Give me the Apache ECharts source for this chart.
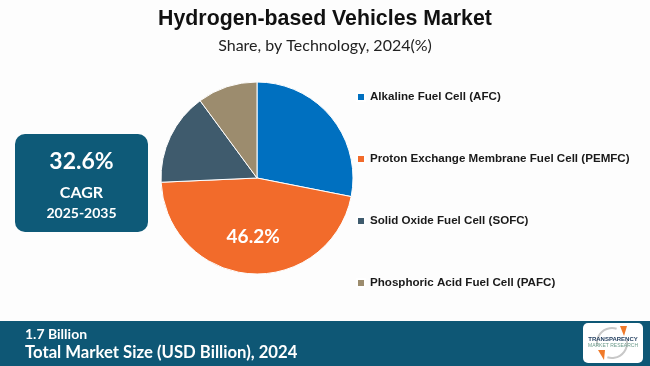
<!DOCTYPE html>
<html><head><meta charset="utf-8">
<script src="https://cdn.jsdelivr.net/npm/echarts@6/dist/echarts.min.js"></script>
<style>html,body{margin:0;padding:0;background:#fdfdfd}#c{width:650px;height:366px}</style>
</head><body><div id="c"></div>
<script>
const categories = ['Alkaline Fuel Cell (AFC)', 'Proton Exchange Membrane Fuel Cell (PEMFC)', 'Solid Oxide Fuel Cell (SOFC)', 'Phosphoric Acid Fuel Cell (PAFC)'];
const shares = [28.1, 46.2, 15.6, 10.1];
const colors = ['#0070c0', '#f26b2b', '#3f5b6d', '#9c8c6e'];
const labeled = [false, true, false, false];
const titleText = 'Hydrogen-based Vehicles Market';
const subtitleText = 'Share, by Technology, 2024(%)';
const cagrValue = '32.6%';
const cagrLabel = 'CAGR';
const cagrPeriod = '2025-2035';
const marketSize = '1.7 Billion';
const marketSizeLabel = 'Total Market Size (USD Billion), 2024';

const chart = echarts.init(document.getElementById('c'), null, {renderer: 'canvas'});
const data = categories.map((name, i) => ({
  name, value: shares[i],
  itemStyle: {color: colors[i]},
  label: {show: labeled[i]}
}));
chart.setOption({
  backgroundColor: '#fdfdfd',
  animation: false,
  title: [
    {text: titleText, left: 'center', top: 4,
     textStyle: {fontFamily: 'Liberation Sans', fontWeight: 'bold', fontSize: 21.3, color: '#111'}},
    {text: subtitleText, left: 'center', top: 33,
     textStyle: {fontFamily: 'Lato', fontWeight: 'normal', fontSize: 16, color: '#222'}}
  ],
  legend: {
    orient: 'vertical', left: 351, top: 86,
    itemWidth: 8, itemHeight: 8, icon: 'rect', itemGap: 50,
    textStyle: {fontFamily: 'Liberation Sans', fontWeight: 'bold', fontSize: 11.6, color: '#1a1a1a'},
    data: categories
  },
  series: [{
    type: 'pie', center: [257, 178], radius: [0, 96], startAngle: 90, clockwise: true,
    itemStyle: {borderColor: '#ffffff', borderWidth: 1},
    label: {show: false, position: 'inside', formatter: '{c}%', color: '#fff',
      fontFamily: 'Lato', fontWeight: 'bold', fontSize: 19},
    labelLayout: {dy: 8},
    labelLine: {show: false},
    emphasis: {disabled: true},
    data
  }],
  graphic: [
    {type: 'rect', shape: {x: 15, y: 134, width: 133, height: 98, r: 10}, style: {fill: '#0e5a78'}},
    {type: 'text', x: 81.5, y: 162, style: {text: cagrValue, fill: '#fff', font: 'bold 23px Lato', textAlign: 'center', textVerticalAlign: 'middle'}},
    {type: 'text', x: 81.5, y: 193, style: {text: cagrLabel, fill: '#fff', font: 'bold 16px Lato', textAlign: 'center', textVerticalAlign: 'middle'}},
    {type: 'text', x: 81.5, y: 213, style: {text: cagrPeriod, fill: '#fff', font: 'bold 14px Lato', textAlign: 'center', textVerticalAlign: 'middle'}},
    {type: 'rect', shape: {x: 0, y: 321, width: 650, height: 45}, style: {fill: '#0e5775'}},
    {type: 'text', x: 25, y: 334, style: {text: marketSize, fill: '#fff', font: 'bold 14px Lato', textVerticalAlign: 'middle'}},
    {type: 'text', x: 25, y: 353, style: {text: marketSizeLabel, fill: '#fff', font: 'bold 16.7px Lato', textVerticalAlign: 'middle'}},
    {type: 'rect', shape: {x: 583, y: 323, width: 60, height: 40, r: 5}, style: {fill: '#ffffff'}},
    {type: 'polygon', shape: {points: [[620,326],[627,326],[624,336]]}, style: {fill: '#f07a2a'}},
    {type: 'polygon', shape: {points: [[604,360],[598,350],[605,350]]}, style: {fill: '#f07a2a'}},
    {type: 'arc', shape: {cx: 612, cy: 343, r: 15, startAngle: Math.PI * 0.95, endAngle: Math.PI * 1.6}, style: {stroke: '#c8c8c8', lineWidth: 2, fill: null}},
    {type: 'arc', shape: {cx: 612, cy: 343, r: 15, startAngle: Math.PI * -0.05, endAngle: Math.PI * 0.6}, style: {stroke: '#c8c8c8', lineWidth: 2, fill: null}},
    {type: 'text', x: 613, y: 339, style: {text: 'TRANSPARENCY', fill: '#1d3a5c', font: 'bold 6px Liberation Sans', textAlign: 'center', textVerticalAlign: 'middle'}},
    {type: 'text', x: 613, y: 346, style: {text: 'MARKET RESEARCH', fill: '#6a9a8a', font: '5px Liberation Sans', textAlign: 'center', textVerticalAlign: 'middle'}}
  ]
});
</script></body></html>
